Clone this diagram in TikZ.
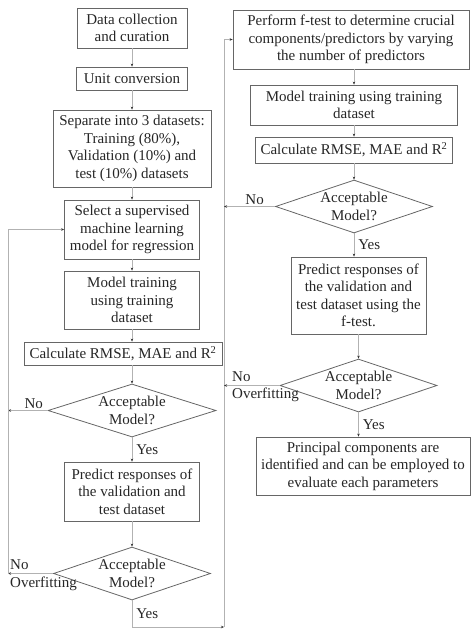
\documentclass[tikz,border=0pt]{standalone}
\usepackage{fontspec}
\setmainfont{Liberation Serif}
\usetikzlibrary{positioning,arrows.meta,shapes.geometric,calc}

\newcommand{\fonteFluxo}{\fontsize{15}{17.5}\selectfont}

\tikzset{
  caixa/.style={draw=black!60, line width=0.8pt, align=center, inner sep=2pt, text=black!85, font=\fonteFluxo},
  losango/.style={diamond, draw=black!60, line width=0.8pt, inner sep=0pt,
    label={[font=\fonteFluxo, text=black!85, align=center]center:{Acceptable\\Model?}}},
  seta/.style={draw=black!30, line width=0.7pt, -{Stealth[length=3pt,width=2.5pt,black!80]}},
  rotulo/.style={font=\fonteFluxo, text=black!85, inner sep=0pt}
}

\begin{document}
\begin{tikzpicture}[x=1pt,y=-1pt]
  \useasboundingbox (0,0) rectangle (474,634);
  \def\xE{132}
  \def\xD{354}
  % Coluna da esquerda
  \node[caixa, minimum width=110pt, minimum height=40pt] (coleta) at (\xE,28) {Data collection\\and curation};
  \node[caixa, minimum width=111pt, minimum height=23pt] (conversao) at (\xE,78.5) {Unit conversion};
  \node[caixa, minimum width=158pt, minimum height=77pt] (separar) at (\xE,148.5) {Separate into 3 datasets:\\Training (80\%),\\Validation (10\%) and\\test (10\%) datasets};
  \node[caixa, minimum width=135pt, minimum height=59pt] (selecionar) at (\xE,229.5) {Select a supervised\\machine learning\\model for regression};
  \node[caixa, minimum width=135pt, minimum height=58pt] (treinoE) at (\xE,300) {Model training\\using training\\dataset};
  \node[caixa, minimum width=198pt, minimum height=23pt] (calcE) at (123,353.5) {Calculate RMSE, MAE and R\textsuperscript{2}};
  \node[losango, minimum width=168pt, minimum height=53pt] (aceitaE1) at (\xE,410.5) {};
  \node[caixa, minimum width=135pt, minimum height=59pt] (preverE) at (\xE,491.5) {Predict responses of\\the validation and\\test dataset};
  \node[losango, minimum width=157pt, minimum height=53pt] (aceitaE2) at (\xE,573.5) {};
  % Coluna da direita
  \node[caixa, minimum width=236pt, minimum height=59pt] (ftest) at (351,39.5) {Perform f-test to determine crucial\\components/predictors by varying\\the number of predictors};
  \node[caixa, minimum width=207pt, minimum height=40pt] (treinoD) at (\xD,105) {Model training using training\\dataset};
  \node[caixa, minimum width=197pt, minimum height=26pt] (calcD) at (\xD,150) {Calculate RMSE, MAE and R\textsuperscript{2}};
  \node[losango, minimum width=157pt, minimum height=53pt] (aceitaD1) at (\xD,206.5) {};
  \node[caixa, minimum width=135pt, minimum height=77pt] (preverD) at (\xD+4.5,295.5) {Predict responses of\\the validation and\\test dataset using the\\f-test.};
  \node[losango, minimum width=157pt, minimum height=53pt] (aceitaD2) at (\xD+4.5,385.5) {};
  \node[caixa, minimum width=214pt, minimum height=58pt] (principais) at (363,466) {Principal components are\\identified and can be employed to\\evaluate each parameters};
  % Pontos das voltas
  \coordinate (voltaE) at (8,0);
  \coordinate (cantoE) at (\xE,627);
  \coordinate (cantoD) at (224,627);
  % Setas da esquerda
  \draw[seta] (coleta) -- (conversao);
  \draw[seta] (conversao) -- (separar);
  \draw[seta] (separar) -- (selecionar);
  \draw[seta] (selecionar) -- (treinoE);
  \draw[seta] (treinoE) -- (treinoE.south |- calcE.north);
  \draw[seta] (treinoE.south |- calcE.south) -- (aceitaE1);
  \draw[seta] (aceitaE1) -- node[rotulo, right=4pt] {Yes} (preverE);
  \draw[seta] (preverE) -- (aceitaE2);
  \draw[seta] (aceitaE2) -- node[rotulo, right=4pt] {Yes} (cantoE) -- (cantoD);
  \draw[seta] (aceitaE1) -- node[rotulo, above=2pt, pos=0.35] {No} (aceitaE1 -| voltaE);
  \draw[seta] (aceitaE2) -- (aceitaE2 -| voltaE);
  \draw[seta] (aceitaE2 -| voltaE) |- (selecionar.west);
  \node[rotulo, anchor=west, align=left] (rotE2) at (10,575) {No\\Overfitting};
  % Setas da direita
  \draw[seta] (cantoD) |- (ftest.west);
  \draw[seta] (ftest.south -| treinoD.north) -- (treinoD);
  \draw[seta] (treinoD) -- (calcD);
  \draw[seta] (calcD) -- (aceitaD1);
  \draw[seta] (aceitaD1) -- node[rotulo, right=4pt] {Yes} (aceitaD1 |- preverD.north);
  \draw[seta] (preverD) -- (aceitaD2);
  \draw[seta] (aceitaD2) -- node[rotulo, right=4pt] {Yes} (aceitaD2 |- principais.north);
  \draw[seta] (aceitaD1) -- node[rotulo, above=2pt, pos=0.4] {No} (aceitaD1 -| cantoD);
  \draw[seta] (aceitaD2) -- (aceitaD2 -| cantoD);
  \node[rotulo, anchor=west, align=left] (rotD2) at (232,386.5) {No\\Overfitting};
\end{tikzpicture}
\end{document}
